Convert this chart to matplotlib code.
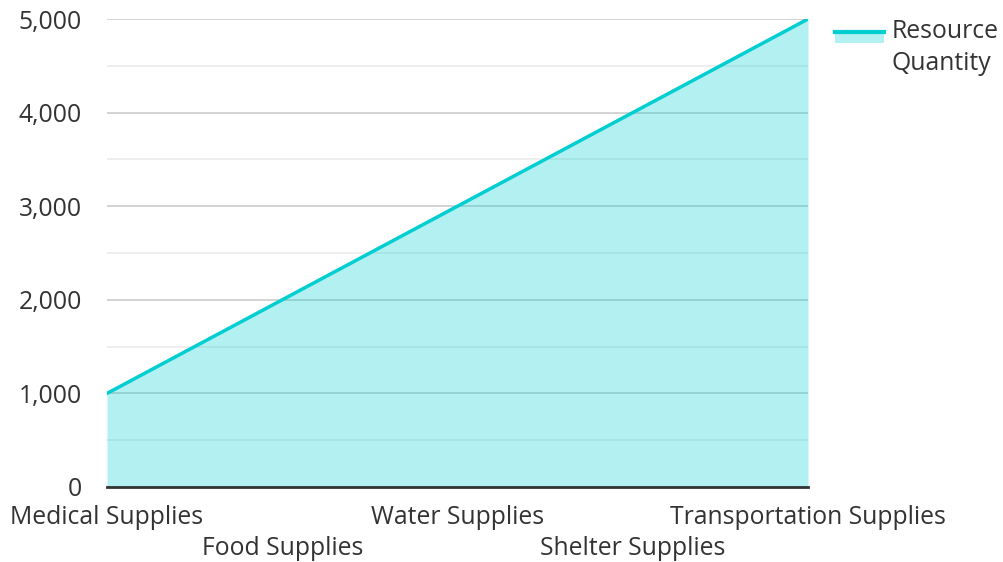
import matplotlib
matplotlib.use("Agg")
import matplotlib.pyplot as plt
from matplotlib.patches import Rectangle
from matplotlib.lines import Line2D
from matplotlib.ticker import FuncFormatter, MultipleLocator

plt.rcParams['font.family'] = ['Open Sans', 'DejaVu Sans']

categories = ["Medical Supplies", "Food Supplies", "Water Supplies",
              "Shelter Supplies", "Transportation Supplies"]
values = [1000, 2000, 3000, 4000, 5000]
series_name = "Resource\nQuantity"

FS = 17.8
W, H = 1004, 562
fig = plt.figure(figsize=(W / 100, H / 100), dpi=100)
L, R, T, B = 107, 808, 19, 487
ax = fig.add_axes([L / W, 1 - B / H, (R - L) / W, (B - T) / H])

line_color = "#00CED1"
x = list(range(len(categories)))
ax.fill_between(x, values, 0, color=line_color, alpha=0.3, linewidth=0, zorder=2)
ax.plot(x, values, color=line_color, linewidth=2.5, zorder=3, solid_capstyle='round')

ax.set_xlim(0, len(categories) - 1)
ax.set_ylim(0, 5000)
ax.yaxis.set_major_locator(MultipleLocator(1000))
ax.yaxis.set_minor_locator(MultipleLocator(500))
ax.yaxis.set_major_formatter(FuncFormatter(lambda v, p: f"{int(v):,}"))
ax.grid(axis='y', which='major', color='#cccccc', linewidth=1.2, zorder=1)
ax.grid(axis='y', which='minor', color='#ebebeb', linewidth=1.2, zorder=1)
ax.set_axisbelow(True)

for s in ['top', 'right', 'left']:
    ax.spines[s].set_visible(False)
ax.spines['bottom'].set_color('#333333')
ax.spines['bottom'].set_linewidth(2)
ax.spines['bottom'].set_zorder(4)

ax.tick_params(axis='y', which='both', length=0, pad=18, labelsize=FS, labelcolor='#333333')
ax.tick_params(axis='x', length=0, pad=0, labelsize=FS)
ax.set_xticks(x)
ax.set_xticklabels([])
for i, c in enumerate(categories):
    off = 37 if i % 2 == 0 else 68
    ax.annotate(c, xy=(i, 0), xycoords='data', xytext=(0, -off), textcoords='offset pixels',
                ha='center', va='baseline', fontsize=FS, color='#333333')

# legend
fig.patches.append(Rectangle((835 / W, 1 - 43 / H), 49 / W, 12 / H, transform=fig.transFigure,
                             facecolor=line_color, alpha=0.3, linewidth=0))
fig.lines.append(Line2D([835 / W, 884 / W], [1 - 32 / H, 1 - 32 / H], transform=fig.transFigure,
                        color=line_color, linewidth=3))
fig.text(892 / W, 1 - 31 / H, "Resource", fontsize=FS, color='#333333', va='center', ha='left')
fig.text(892 / W, 1 - 64 / H, "Quantity", fontsize=FS, color='#333333', va='center', ha='left')

fig.savefig("out.png", dpi=100)
